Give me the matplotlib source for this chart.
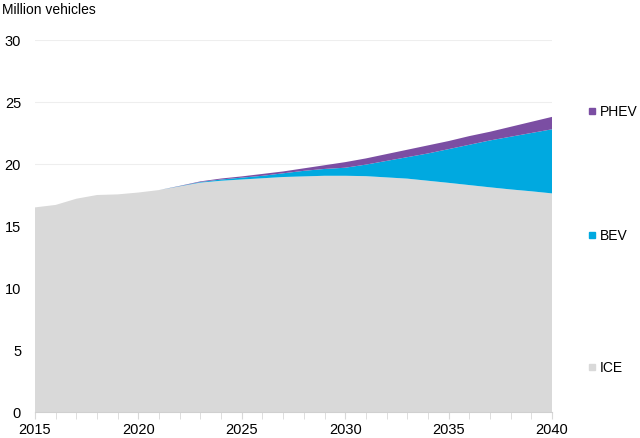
import numpy as np
import matplotlib
matplotlib.use("Agg")
from matplotlib import pyplot as plt

plt.rcParams['font.family'] = ['Liberation Sans', 'DejaVu Sans']

years = list(range(2015, 2041))
ice = [16.5, 16.7, 17.2, 17.5, 17.55, 17.7, 17.9, 18.2, 18.5, 18.65,
       18.75, 18.85, 18.95, 19.0, 19.05, 19.05, 19.02, 18.92, 18.82, 18.65,
       18.48, 18.3, 18.12, 17.95, 17.8, 17.63]
bev = [0.0, 0.0, 0.0, 0.0, 0.0, 0.0, 0.0, 0.02, 0.05, 0.1,
       0.15, 0.2, 0.3, 0.45, 0.55, 0.65, 0.93, 1.33, 1.73, 2.2,
       2.72, 3.25, 3.78, 4.25, 4.7, 5.17]
phev = [0.0, 0.0, 0.0, 0.0, 0.0, 0.0, 0.0, 0.02, 0.05, 0.08,
        0.1, 0.15, 0.15, 0.2, 0.3, 0.45, 0.5, 0.55, 0.6, 0.65,
        0.65, 0.7, 0.7, 0.8, 0.9, 1.0]
labels = ["ICE", "BEV", "PHEV"]
colors = ["#d9d9d9", "#00a9e0", "#7b4ea3"]
legend_y = [0.12, 0.475, 0.81]  # axes fraction positions of legend entries

fig = plt.figure(figsize=(6.4, 4.39), dpi=100)
ax = fig.add_axes([35/640, 26/439, (552-35)/640, (413-41)/439])

ax.stackplot(years, ice, bev, phev, colors=colors, linewidth=0)

ax.set_xlim(2015, 2040)
ax.set_ylim(0, 30)
ax.set_yticks(range(0, 31, 5))
ax.set_xticks(range(2015, 2041, 5))
ax.set_xticks(years, minor=True)
ax.grid(True, axis='y', color='#eeeeee', linewidth=0.8)
ax.set_axisbelow(True)
for s in ['top', 'right', 'left']:
    ax.spines[s].set_visible(False)
ax.spines['bottom'].set_color('#d0d0d0')
ax.tick_params(axis='y', length=0, labelsize=10.5, pad=10)
ax.tick_params(axis='x', which='both', length=5, color='#d8d8d8', labelsize=10.5, pad=2)

fig.text(2/640, 1 - 14/439, "Million vehicles", fontsize=10, va='baseline')

for lab, col, yy in zip(labels, colors, legend_y):
    ax.plot([1.078], [yy], marker='s', markersize=5, color=col,
            transform=ax.transAxes, clip_on=False)
    ax.text(1.093, yy, lab, transform=ax.transAxes, fontsize=10, va='center')

fig.savefig("out.png", dpi=100)
